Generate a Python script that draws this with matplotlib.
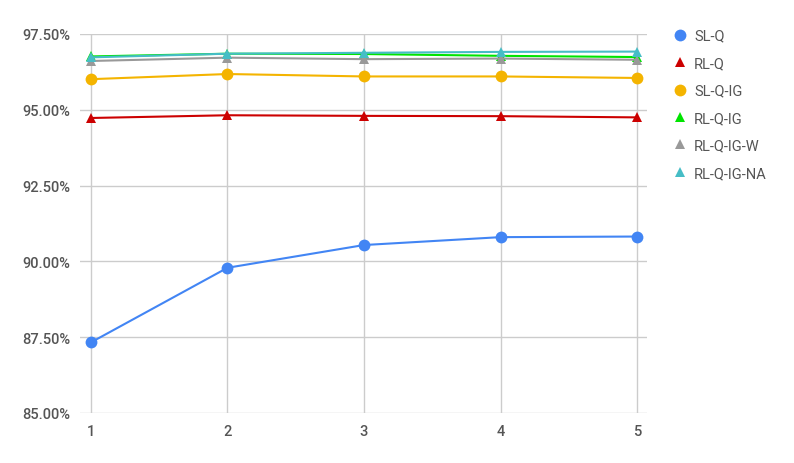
import matplotlib.pyplot as plt
from matplotlib.lines import Line2D
from matplotlib.ticker import FuncFormatter

plt.rcParams['font.family'] = ['Roboto', 'DejaVu Sans']

steps = [1, 2, 3, 4, 5]
series_names = ['SL-Q', 'RL-Q', 'SL-Q-IG', 'RL-Q-IG', 'RL-Q-IG-W', 'RL-Q-IG-NA']
sl_q = [87.33, 89.79, 90.54, 90.80, 90.82]
rl_q = [94.73, 94.82, 94.80, 94.79, 94.75]
sl_q_ig = [96.01, 96.18, 96.10, 96.10, 96.05]
rl_q_ig = [96.76, 96.85, 96.84, 96.78, 96.74]
rl_q_ig_w = [96.61, 96.72, 96.67, 96.69, 96.65]
rl_q_ig_na = [96.73, 96.85, 96.88, 96.91, 96.92]

series_values = [sl_q, rl_q, sl_q_ig, rl_q_ig, rl_q_ig_w, rl_q_ig_na]
colors = ['#4285f4', '#cc0000', '#f4b400', '#00e400', '#999999', '#46bdc6']
markers = ['o', '^', 'o', '^', '^', '^']
sizes = [8.5, 7.5, 8.5, 7.5, 7.5, 7.5]

fig = plt.figure(figsize=(7.94, 4.64), dpi=100)
ax = fig.add_axes([80 / 794, 1 - 414 / 464, 567 / 794, 379 / 464])

for name, vals, c, m, s in zip(series_names, series_values, colors, markers, sizes):
    ax.plot(steps, vals, color=c, marker=m, markersize=s, linewidth=1.5,
            markeredgewidth=0, label=name)

ax.set_ylim(85, 97.5)
ax.set_xlim(1 - 11 / 136.75, 5 + 10 / 136.75)
ax.set_yticks([85, 87.5, 90, 92.5, 95, 97.5])
ax.set_xticks(steps)
ax.yaxis.set_major_formatter(FuncFormatter(lambda v, p: f'{v:.2f}%'))
ax.grid(True, color='#cccccc', linewidth=1)
ax.set_axisbelow(True)
for sp in ax.spines.values():
    sp.set_visible(False)
ax.tick_params(length=0, labelsize=10.5, labelcolor='#555555')
ax.tick_params(axis='y', pad=7)
ax.tick_params(axis='x', pad=8)
for lab in ax.get_xticklabels() + ax.get_yticklabels():
    lab.set_fontweight('medium')

handles = [Line2D([], [], linestyle='None', marker=m, color=c, markersize=s,
                  markeredgewidth=0)
           for c, m, s in zip(colors, markers, sizes)]
leg = fig.legend(handles, series_names, loc='upper left',
                 bbox_to_anchor=(667 / 794, 1 - 24 / 464), frameon=False,
                 fontsize=10.5, labelcolor='#555555', handlelength=1.0,
                 handletextpad=0.45, labelspacing=0.92, borderaxespad=0)

fig.savefig('out.png', dpi=100)
